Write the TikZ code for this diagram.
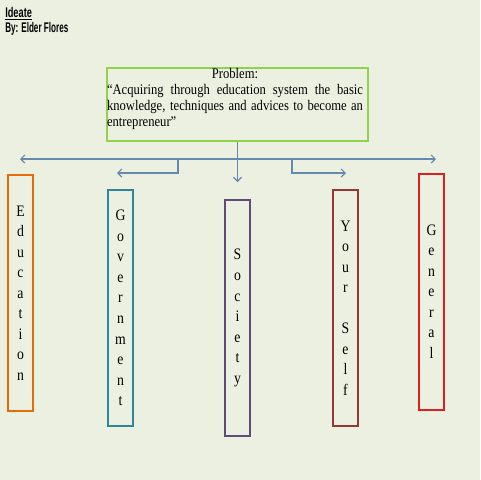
\documentclass[tikz,border=0pt]{standalone}
\usepackage{fontspec}
\setmainfont{Liberation Serif}[FakeStretch=0.86]
\newfontfamily\headfont{Liberation Sans}
\usetikzlibrary{arrows.meta}

\definecolor{bgcol}{RGB}{236,240,224}
\definecolor{probgreen}{RGB}{146,208,80}
\definecolor{linkblue}{RGB}{100,138,176}
\definecolor{educorange}{RGB}{228,108,10}
\definecolor{govteal}{RGB}{49,133,155}
\definecolor{socpurple}{RGB}{96,74,123}
\definecolor{selfbrown}{RGB}{149,55,53}
\definecolor{genred}{RGB}{224,30,30}

\tikzset{
  letterbox/.style={draw, line width=1.5pt, minimum width=18.75pt, minimum height=177pt,
    inner sep=0pt, align=center, font=\fontsize{12}{15.4}\selectfont},
  link/.style={color=linkblue, line width=0.9pt, >={Straight Barb[length=3pt,width=6pt]}},
  headtext/.style={anchor=base west, inner sep=0pt, font=\headfont\bfseries\fontsize{10.5}{12}\selectfont}
}

\begin{document}
\begin{tikzpicture}[x=0.75pt,y=0.75pt,yscale=-1,xscale=1]
%Background
\fill [bgcol] (0,0) rectangle (480,480);
\useasboundingbox (0,0) rectangle (480,480);

% Text Node
\node [headtext] (title) at (5,17) {\scalebox{0.66}[1]{\underline{Ideate}}};
% Text Node
\node [headtext] (author) at (5,32) {\scalebox{0.58}[1]{By: Elder Flores}};

%Shape: Rectangle
\node [draw=probgreen, line width=1.5pt, minimum width=195.75pt, minimum height=54.75pt, inner sep=0pt] (problem) at (237.5,104.5) {};
% Text Node
\node [anchor=north, inner sep=0pt, text width=192pt, align=justify, font=\fontsize{11}{12}\selectfont] (ptext) at (235,68.5)
  {{\centering Problem:\par}“Acquiring through education system the basic\linebreak knowledge, techniques and advices to become an\linebreak entrepreneur”};

%Coordinates of the connectors
\coordinate (trunkend) at (237.5,182);
\coordinate (hl) at (20,159);
\coordinate (hr) at (436,159);
\coordinate (lbranch) at (178,159);
\coordinate (lend) at (117,173);
\coordinate (rbranch) at (292,159);
\coordinate (rend) at (346,173);

%Straight Lines
\draw [link, ->] (problem.south) -- (trunkend);
\draw [link, <->] (hl) -- (hr);
\draw [link, ->] (lbranch) |- (lend);
\draw [link, ->] (rbranch) |- (rend);

%Shape: Rectangle
\node [letterbox, draw=educorange] (education) at (20.5,293) {E\\d\\u\\c\\a\\t\\i\\o\\n};
%Shape: Rectangle
\node [letterbox, draw=govteal] (government) at (120.5,308) {G\\o\\v\\e\\r\\n\\m\\e\\n\\t};
%Shape: Rectangle
\node [letterbox, draw=socpurple] (society) at (237.5,318) {S\\o\\c\\i\\e\\t\\y};
%Shape: Rectangle
\node [letterbox, draw=selfbrown] (yourself) at (345.5,308) {Y\\o\\u\\r\\\mbox{}\\S\\e\\l\\f};
%Shape: Rectangle
\node [letterbox, draw=genred] (general) at (431.5,291.5) {G\\e\\n\\e\\r\\a\\l};

\end{tikzpicture}
\end{document}
